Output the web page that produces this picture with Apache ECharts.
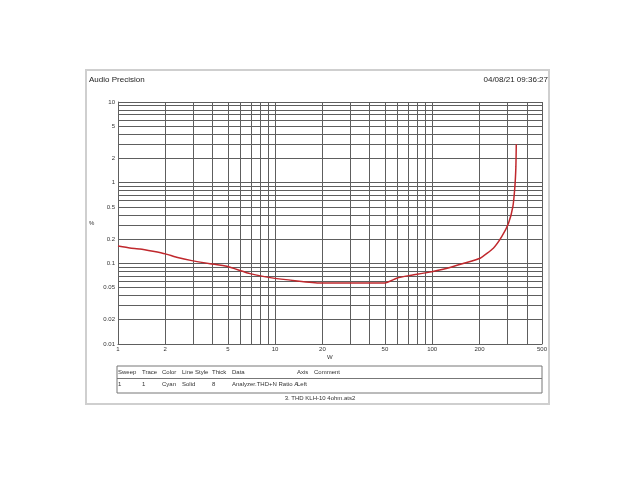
<!DOCTYPE html>
<html>
<head>
<meta charset="utf-8">
<script src="https://cdn.jsdelivr.net/npm/echarts@6/dist/echarts.min.js"></script>
<style>html,body{margin:0;padding:0;background:#fff}#c{width:640px;height:480px}</style>
</head>
<body>
<div id="c"></div>
<script>
var watts = [1, 1.19, 1.38, 1.67, 2, 2.36, 2.95, 3.85, 4.93, 6.93, 9.3, 13.8, 19.3, 25, 35, 50, 59.5, 70.9, 92.4, 124.7, 159, 202, 245, 277, 306, 326, 336, 341, 343];
var thd = [0.164, 0.155, 0.151, 0.141, 0.131, 0.119, 0.108, 0.099, 0.092, 0.0745, 0.0665, 0.0605, 0.057, 0.057, 0.057, 0.057, 0.0654, 0.0704, 0.0767, 0.0869, 0.100, 0.1156, 0.154, 0.214, 0.314, 0.50, 0.89, 1.58, 3.0];
var xLabels = [1, 2, 5, 10, 20, 50, 100, 200, 500];
var yLabels = [0.01, 0.02, 0.05, 0.1, 0.2, 0.5, 1, 2, 5, 10];
var xGrid = [1,2,3,4,5,6,7,8,9,10,20,30,40,50,60,70,80,90,100,200,300,400,500];
var yGrid = [0.01,0.02,0.03,0.04,0.05,0.06,0.07,0.08,0.09,0.1,0.2,0.3,0.4,0.5,0.6,0.7,0.8,0.9,1,2,3,4,5,6,7,8,9,10];
var tableHeader = ['Sweep','Trace','Color','Line Style','Thick','Data','Axis','Comment'];
var tableRow = ['1','1','Cyan','Solid','8','Analyzer.THD+N Ratio A','Left',''];
var colX = [118,142,162,182,212,232,297,314];

var chart = echarts.init(document.getElementById('c'));
var gridColor = '#5e5e5e';
var graphics = [
  {type:'rect', shape:{x:86,y:70,width:463,height:334}, style:{fill:'none', stroke:'#cfcfcf', lineWidth:2}, z:-1},
  {type:'text', left:89, top:76, style:{text:'Audio Precision', fontSize:8, fill:'#222', fontFamily:'Liberation Sans'}},
  {type:'text', right:92, top:76, style:{text:'04/08/21 09:36:27', fontSize:8, fill:'#222', fontFamily:'Liberation Sans', textAlign:'right'}},
  {type:'text', left:89, top:220, style:{text:'%', fontSize:6, fill:'#333', fontFamily:'Liberation Sans'}},
  {type:'text', left:327, top:354, style:{text:'W', fontSize:6, fill:'#333', fontFamily:'Liberation Sans'}},
  {type:'rect', shape:{x:117,y:366,width:425,height:27}, style:{fill:'none', stroke:'#777', lineWidth:1}},
  {type:'line', shape:{x1:117,y1:378.5,x2:542,y2:378.5}, style:{stroke:'#777', lineWidth:1}},
  {type:'text', x:320, y:395, style:{text:'3. THD KLH-10 4ohm.ats2', fontSize:6, fill:'#333', fontFamily:'Liberation Sans', textAlign:'center'}}
];
tableHeader.forEach(function(t,i){
  graphics.push({type:'text', x:colX[i], y:369, style:{text:t, fontSize:6, fill:'#333', fontFamily:'Liberation Sans'}});
});
tableRow.forEach(function(t,i){
  if(t) graphics.push({type:'text', x:colX[i], y:381, style:{text:t, fontSize:6, fill:'#333', fontFamily:'Liberation Sans'}});
});

chart.setOption({
  animation:false,
  grid:{left:118, right:98, top:102, bottom:136, containLabel:false},
  xAxis:{type:'log', logBase:10, min:1, max:500,
    axisLine:{show:true, lineStyle:{color:gridColor, width:1}},
    axisTick:{show:true, inside:true, length:242, customValues:xGrid, lineStyle:{color:gridColor, width:1}},
    splitLine:{show:false}, minorTick:{show:false},
    axisLabel:{customValues:xLabels, fontSize:6, color:'#333', margin:2, fontFamily:'Liberation Sans'}
  },
  yAxis:{type:'log', logBase:10, min:0.01, max:10,
    axisLine:{show:true, lineStyle:{color:gridColor, width:1}},
    axisTick:{show:true, inside:true, length:424, customValues:yGrid, lineStyle:{color:gridColor, width:1}},
    splitLine:{show:false}, minorTick:{show:false},
    axisLabel:{customValues:yLabels, fontSize:6, color:'#333', margin:3, fontFamily:'Liberation Sans'}
  },
  series:[{type:'line', data:watts.map(function(w,i){return [w, thd[i]];}), showSymbol:false, smooth:0.15,
    lineStyle:{color:'#c0282d', width:1.5}}],
  graphic:graphics
});
</script>
</body>
</html>
